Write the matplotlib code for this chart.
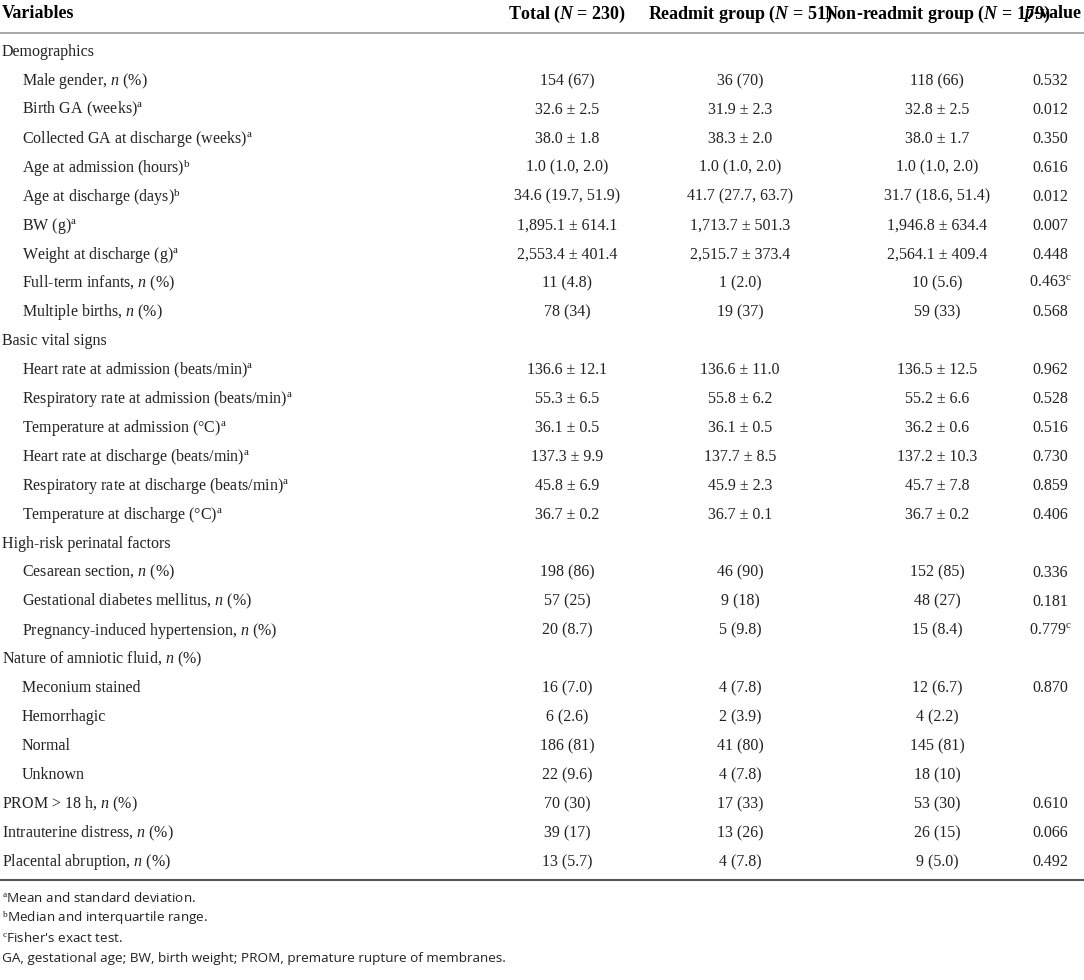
import matplotlib
matplotlib.use('Agg')
import matplotlib.pyplot as plt

plt.rcParams['mathtext.fontset'] = 'custom'
plt.rcParams['mathtext.rm'] = 'Liberation Serif'
plt.rcParams['mathtext.it'] = 'Liberation Serif:italic'
plt.rcParams['mathtext.bf'] = 'Liberation Serif:bold'
plt.rcParams['mathtext.bfit'] = 'Liberation Serif:italic:bold'

N = r'$\it{n}$'
headers = ["Variables", r"Total ($\mathbfit{N}$ = 230)", r"Readmit group ($\mathbfit{N}$ = 51)",
           r"Non-readmit group ($\mathbfit{N}$ = 179)", r"$\mathbfit{p}$-value"]

# (label, is_section, total, readmit, nonreadmit, p)
rows = [
    ("Demographics", True, "", "", "", ""),
    ("Male gender, " + N + " (%)", False, "154 (67)", "36 (70)", "118 (66)", "0.532"),
    ("Birth GA (weeks)$^{\\rm a}$", False, "32.6 ± 2.5", "31.9 ± 2.3", "32.8 ± 2.5", "0.012"),
    ("Collected GA at discharge (weeks)$^{\\rm a}$", False, "38.0 ± 1.8", "38.3 ± 2.0", "38.0 ± 1.7", "0.350"),
    ("Age at admission (hours)$^{\\rm b}$", False, "1.0 (1.0, 2.0)", "1.0 (1.0, 2.0)", "1.0 (1.0, 2.0)", "0.616"),
    ("Age at discharge (days)$^{\\rm b}$", False, "34.6 (19.7, 51.9)", "41.7 (27.7, 63.7)", "31.7 (18.6, 51.4)", "0.012"),
    ("BW (g)$^{\\rm a}$", False, "1,895.1 ± 614.1", "1,713.7 ± 501.3", "1,946.8 ± 634.4", "0.007"),
    ("Weight at discharge (g)$^{\\rm a}$", False, "2,553.4 ± 401.4", "2,515.7 ± 373.4", "2,564.1 ± 409.4", "0.448"),
    ("Full-term infants, " + N + " (%)", False, "11 (4.8)", "1 (2.0)", "10 (5.6)", "0.463$^{\\rm c}$"),
    ("Multiple births, " + N + " (%)", False, "78 (34)", "19 (37)", "59 (33)", "0.568"),
    ("Basic vital signs", True, "", "", "", ""),
    ("Heart rate at admission (beats/min)$^{\\rm a}$", False, "136.6 ± 12.1", "136.6 ± 11.0", "136.5 ± 12.5", "0.962"),
    ("Respiratory rate at admission (beats/min)$^{\\rm a}$", False, "55.3 ± 6.5", "55.8 ± 6.2", "55.2 ± 6.6", "0.528"),
    ("Temperature at admission (°C)$^{\\rm a}$", False, "36.1 ± 0.5", "36.1 ± 0.5", "36.2 ± 0.6", "0.516"),
    ("Heart rate at discharge (beats/min)$^{\\rm a}$", False, "137.3 ± 9.9", "137.7 ± 8.5", "137.2 ± 10.3", "0.730"),
    ("Respiratory rate at discharge (beats/min)$^{\\rm a}$", False, "45.8 ± 6.9", "45.9 ± 2.3", "45.7 ± 7.8", "0.859"),
    ("Temperature at discharge (°C)$^{\\rm a}$", False, "36.7 ± 0.2", "36.7 ± 0.1", "36.7 ± 0.2", "0.406"),
    ("High-risk perinatal factors", True, "", "", "", ""),
    ("Cesarean section, " + N + " (%)", False, "198 (86)", "46 (90)", "152 (85)", "0.336"),
    ("Gestational diabetes mellitus, " + N + " (%)", False, "57 (25)", "9 (18)", "48 (27)", "0.181"),
    ("Pregnancy-induced hypertension, " + N + " (%)", False, "20 (8.7)", "5 (9.8)", "15 (8.4)", "0.779$^{\\rm c}$"),
    ("Nature of amniotic fluid, " + N + " (%)", True, "", "", "", ""),
    ("Meconium stained", False, "16 (7.0)", "4 (7.8)", "12 (6.7)", "0.870"),
    ("Hemorrhagic", False, "6 (2.6)", "2 (3.9)", "4 (2.2)", ""),
    ("Normal", False, "186 (81)", "41 (80)", "145 (81)", ""),
    ("Unknown", False, "22 (9.6)", "4 (7.8)", "18 (10)", ""),
    ("PROM > 18 h, " + N + " (%)", True, "70 (30)", "17 (33)", "53 (30)", "0.610"),
    ("Intrauterine distress, " + N + " (%)", True, "39 (17)", "13 (26)", "26 (15)", "0.066"),
    ("Placental abruption, " + N + " (%)", True, "13 (5.7)", "4 (7.8)", "9 (5.0)", "0.492"),
]

footnotes = ["$^{\\rm a}$Mean and standard deviation.",
             "$^{\\rm b}$Median and interquartile range.",
             "$^{\\rm c}$Fisher's exact test.",
             "GA, gestational age; BW, birth weight; PROM, premature rupture of membranes."]

W, H = 1084, 980
fig = plt.figure(figsize=(W / 100, H / 100), dpi=100)
ax = fig.add_axes([0, 0, 1, 1])
ax.set_xlim(0, W)
ax.set_ylim(H, 0)
ax.axis('off')

serif = 'Liberation Serif'
col_x = [567, 740, 937, 1050]
fs = 11.5
hfs = 13

ax.text(2, 14, headers[0], fontfamily=serif, fontweight='bold', fontsize=hfs, va='center', ha='left')
for x, h in zip(col_x[:3], headers[1:4]):
    ax.text(x, 14, h, fontfamily=serif, fontweight='bold', fontsize=hfs, va='center', ha='center')
ax.text(W - 2, 14, headers[4], fontfamily=serif, fontweight='bold', fontsize=hfs, va='center', ha='right')
ax.plot([0, W], [33, 33], color='#999999', lw=1.2)

y0, dy = 52, 28.93
for i, (label, sec, *vals) in enumerate(rows):
    y = y0 + i * dy
    ax.text(2 if sec else 22, y, label, fontfamily=serif, fontsize=fs, va='center', ha='left', color='#222222')
    for x, v in zip(col_x, vals):
        if v:
            ax.text(x, y, v, fontfamily=serif, fontsize=fs, va='center', ha='center', color='#222222')

ax.plot([0, W], [880, 880], color='#555555', lw=1.5)
for i, f in enumerate(footnotes):
    ax.text(2, 898 + i * 20, f, fontfamily='Open Sans', fontsize=9.7, va='center', ha='left', color='#222222')

fig.savefig('out.png', dpi=100)
